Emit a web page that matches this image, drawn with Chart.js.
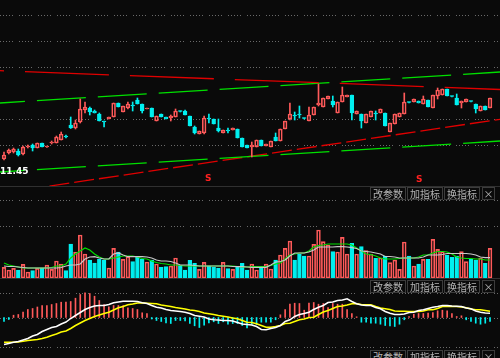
<!DOCTYPE html>
<html><head><meta charset="utf-8">
<script src="https://cdn.jsdelivr.net/npm/chart.js@4.4.1/dist/chart.umd.min.js"></script>
<style>
html,body{margin:0;padding:0;background:#0a0a0a;width:500px;height:358px;overflow:hidden;position:relative;}
canvas{position:absolute;left:0;}
.sep{position:absolute;left:0;width:500px;height:1px;background:#303030;}
.btn{position:absolute;height:11px;border:1px solid #3c3c3c;color:#b4b4b4;font:10px/11px "Noto Sans CJK SC",sans-serif;text-align:center;background:#0a0a0a;overflow:hidden;}
.lbl{position:absolute;font:bold 9px/9px "DejaVu Sans",sans-serif;white-space:nowrap;}
</style></head><body>
<canvas id="main" width="500" height="186" style="top:0px"></canvas>
<canvas id="vol" width="500" height="92" style="top:186px"></canvas>
<canvas id="macd" width="500" height="80" style="top:278px"></canvas>
<div class="sep" style="top:186px"></div>
<div class="sep" style="top:278px"></div>
<div class="lbl" style="left:0px;top:167px;color:#ffffff">11.45</div>
<div class="lbl" style="left:205px;top:174px;color:#ff2020">S</div>
<div class="lbl" style="left:416px;top:175px;color:#ff2020">S</div>
<div class="btn" style="left:370px;top:187px;width:34px">改参数</div>
<div class="btn" style="left:407px;top:187px;width:34px">加指标</div>
<div class="btn" style="left:444px;top:187px;width:34px">换指标</div>
<div class="btn" style="left:482px;top:187px;width:11px">×</div>
<div class="btn" style="left:370px;top:280px;width:34px">改参数</div>
<div class="btn" style="left:407px;top:280px;width:34px">加指标</div>
<div class="btn" style="left:444px;top:280px;width:34px">换指标</div>
<div class="btn" style="left:482px;top:280px;width:11px">×</div>
<div class="btn" style="left:370px;top:350px;width:34px">改参数</div>
<div class="btn" style="left:407px;top:350px;width:34px">加指标</div>
<div class="btn" style="left:444px;top:350px;width:34px">换指标</div>
<div class="btn" style="left:482px;top:350px;width:11px">×</div>
<script>
// ---- data ----
const open = [4.1,4.7,4.8,4.9,4.6,5.3,5.5,5.2,5.7,5.3, 5.7,5.7,6.0,6.4,7.5,7.2,7.8,9.0,9.2,8.9, 8.6,7.9,8.1,8.3,9.7,8.8,9.2,9.5,10.0,9.6, 9.1,9.2,7.9,8.6,8.3,8.2,8.3,8.9,8.9,8.4, 7.3,6.6,6.7,8.2,8.1,7.2,6.7,7.0,7.0,7.1, 6.2,5.5,5.3,5.3,6.0,5.4,5.3,6.3,5.9,7.1, 8.1,8.5,8.6,8.2,7.9,8.5,9.5,9.3,10.1,9.9, 8.7,9.8,10.3,10.5,8.6,8.6,7.7,8.3,8.7,8.7, 8.7,6.8,7.6,8.3,8.6,9.8,9.8,9.9,9.6,10.0, 9.2,10.4,10.5,11.1,10.4,10.2,9.7,9.8,9.9,9.6, 8.9,9.4,9.2];
const close = [4.5,5.0,5.1,4.5,5.3,5.4,5.2,5.7,5.3,5.4, 5.8,6.3,6.6,6.3,7.2,7.7,9.1,9.3,8.8,8.7, 7.9,7.8,8.3,9.7,9.3,9.4,9.6,9.4,9.6,8.9, 9.2,8.3,8.4,8.3,8.1,8.4,8.9,8.85,8.5,7.4, 6.7,6.9,8.2,8.1,7.6,6.9,7.0,6.9,7.2,6.2, 5.3,5.2,5.5,6.0,5.4,5.6,5.9,5.9,7.1,7.9, 8.6,8.4,8.5,8.15,8.5,9.3,9.7,10.2,10.4,9.5, 9.8,10.5,10.5,8.7,8.9,7.9,8.6,8.9,8.6,9.1, 7.4,7.7,8.6,8.7,9.8,9.75,10.1,9.7,10.1,9.3, 10.5,11.0,11.1,10.4,10.35,9.5,9.9,10.1,9.85,9.1, 9.4,9.0,10.2];
const high = [4.8,5.1,5.2,5.1,5.4,5.5,5.6,5.7,5.7,5.4, 5.9,6.4,6.8,6.5,8.3,8.0,10.1,9.8,9.3,9.0, 8.7,7.9,8.3,9.7,9.7,9.4,9.8,9.8,10.2,9.6, 9.2,9.2,8.4,8.6,8.3,8.5,9.1,8.9,9.0,8.4, 7.4,6.9,8.4,8.6,8.1,8.1,7.0,7.2,7.2,7.1, 6.2,5.5,5.8,6.0,6.0,5.6,5.9,6.7,7.1,7.9, 9.7,8.8,9.4,8.2,9.3,9.3,11.6,10.2,10.4,10.4, 9.8,11.3,10.5,10.5,8.9,8.6,8.6,8.9,8.9,9.1, 8.7,7.7,8.6,8.7,10.7,9.8,10.1,9.9,10.4,10.0, 10.5,11.2,11.1,11.1,10.4,10.6,9.9,10.1,9.9,9.6, 9.4,9.4,10.2];
const low = [4.0,4.6,4.7,4.4,4.5,5.2,4.9,5.2,5.3,5.25, 5.6,5.7,6.0,6.2,7.15,7.1,7.7,8.7,8.5,8.7, 7.9,7.3,8.1,8.3,9.3,8.8,9.1,8.9,9.6,8.7, 9.1,8.3,7.9,8.3,8.1,7.9,8.3,8.8,8.5,7.4, 6.6,6.6,6.6,7.7,7.6,6.8,6.7,6.7,7.0,6.2, 5.3,5.2,4.3,5.3,5.4,5.4,5.3,5.9,5.9,7.1, 8.0,8.0,8.2,8.1,7.9,8.5,9.4,9.3,10.1,9.3, 8.7,9.8,10.3,8.0,8.6,7.2,7.7,8.3,8.0,8.7, 7.4,6.8,7.6,8.3,8.6,9.7,9.8,9.7,9.6,9.3, 9.2,10.1,10.5,10.4,10.3,9.5,9.2,9.8,9.8,8.7, 8.9,9.0,9.2];
const volume = [10.7,8,9.7,8,13.7,6,7.3,9.7,9.7,13, 8.7,17,14,7.3,34,26,43,24,18,15, 19,18,10,29.7,26,18.7,21.3,16.3,21.7,19, 16,18,14,10.7,11.3,12,20,12.7,8,17.7, 14.7,8.7,15.7,12,10.7,10,15.7,9.3,8.7,10.7, 14.7,8,14,8,10.7,14,9,18,23,29.7, 37,18,24,22,22,33.7,48,36.3,33,26.3, 26,40.7,24,34.7,24,31.3,27.3,24,19.7,20, 22,15.3,18,8.7,36,22,12,14,18.7,18.7, 38.7,28.7,26.3,23,20.7,22,26.3,16.3,19,18, 20,14.7,29.7];
const volMa1 = [12,11.5,11.5,11,10.5,10,10,10,10,10, 10,10,10.5,12,13,13,14,19,21,21.3, 20,19,19,24,25,23,21.3,21.3,21.3,21.3, 21,20,18,17,17,16.5,15,13,13,13, 12.5,12,12,12,12,12,12,12,11.5,11.3, 11.3,11,10.7,10.7,10.7,10.7,13,16,16.5,18, 22,25,25,25,26,28,31,31,31,31, 31.3,31.3,31,30.3,29.5,27,26.5,26,25,24, 21.5,21.5,21,20,20,20,20,20,21,23, 23,23,23.5,24.5,24.5,24.5,24.5,24.5,24,23, 21,20.3,20.3];
const volMa2 = [15,13,12,11,10,10,10,10,10,10, 10.5,12,12,14,20,24,27,30,28,24, 21,19,19,20,21,22,22,22,21,19.5, 19,17,15.5,14.5,14,13,13,12.5,12,12, 12,12,12,12,12,12,12,12,12,11.5, 11,11,11.3,11.3,11.3,11.3,12.5,14,15,19, 23,24,25,25,27,31,32.5,33,34,34, 34,34,34,33,30,27,24,23.5,22,20, 19,19,19,19.5,20,20,20,21,23,23, 25,26.5,26.5,26,24,21,20,19.5,19.5,19, 19,18,18];
const macdBar = [-4,-2,2.3,3,5.3,8,9,10.5,12,12, 13,14,15.3,15.3,16,19.3,23,24.7,24,21.3, 17,13,10.7,12,12,12,9.7,9,8,4.7, 4,-1.5,-3,-4,-5.3,-6,-3,-3,-3.3,-6, -8.3,-10,-7.7,-5.3,-4.3,-6,-4.3,-6.7,-6,-6, -8,-10.3,-6.7,-7,-4.7,-4.7,-4.7,-2.3,2.7,8, 13.3,14.3,14,7.3,14.3,15,13.3,14,10,14, 13.3,13.3,8,4,0.7,-4.7,-4.7,-5.7,-5.7,-6.7, -8,-8.5,-9,-6.7,-2.3,1,3.3,4,4,4.5, 5,6.7,7.3,6.7,4,1,1.7,-2.3,-4,-5.7, -6.7,-5.7,-4];
const dif = [-27,-26,-24.7,-24,-22.5,-21,-18.5,-17,-14,-12, -10,-9,-6.5,-4.5,-1,2,5,8,10,11.5, 12,12,13,14.7,15.5,16.3,16.3,16.3,16,14.7, 14,12,10.3,9.5,8,7,6.5,6,5.3,4, 2,1.3,0.5,-1.5,-2.3,-2.5,-3,-3,-3.5,-5, -6.5,-7,-7.5,-9,-12,-12.3,-11,-10,-8,-4, -2.3,1,3,4,5.3,8,10.3,12,15,15.5, 17,17.5,18.7,16,13.7,12.5,12,12,10,8.7, 6,4.3,3,3,3.5,5,5.3,7,7.7,9, 10.3,11,12,12,11.5,11.3,11,9.5,8.7,6.5, 5.3,4.5,4.3];
const dea = [-24.7,-24.7,-24.7,-24.5,-23.7,-23,-22.5,-22,-21,-19.7, -18,-16.5,-14.5,-13.5,-11,-8,-5.5,-3,-1,1, 2.5,4,5.3,7.5,9.7,11,12.7,13.5,14.5,14.7, 14.3,14,13.7,12.5,11.7,11,10,9.3,8.5,7.5, 7,6,4.5,3.7,3,2,1.3,0.5,-0.5,-1.3, -3,-4.7,-5,-6.3,-8,-9.7,-9.7,-9,-8,-6, -5.7,-4,-2.3,-1.5,0,0.3,3,5.5,7,9, 11,11.5,12.5,13.7,13.7,13,12.7,12.7,11,9.5, 8.7,8,6.5,6.3,6.3,6,6,6,6.5,7.7, 7.7,9,11,11,11,11,10.5,9.7,8.5,7.7, 7.7,7,6.3];
// channel lines: price at the left and right edge of the view
const chanX = [-0.84, 104.09];
const chanUpperRed = [12.93, 11.05];
const chanUpperGreen = [9.7, 12.8];
const chanLowerGreen = [2.8, 5.9];
const chanLowerRed = [0.66, 8.07];
// gridline levels
const gridMain = [18.5, 15.9, 13.3, 8.1, 5.5];
const gridVol = [77, 52];
const gridMacd = [24.5, -0.5, -29.5];

// ---- drawing ----
const days = close.map((_, i) => i);
const RED = '#ff5a5a', CYAN = '#00f0f0', CLEAR = 'rgba(0,0,0,0)';
const isUp = i => close[i] >= open[i];
const candleColor = c => isUp(c.dataIndex) ? RED : CYAN;
const pts = arr => arr.map((v, i) => ({x: i, y: v}));
const DOTS = [1,2,1,2,1,2,1,2,1,6];

function xAxis() { return {type: 'linear', offset: false, min: chanX[0], max: chanX[1], display: false, grid: {offset: false}}; }
function yAxis(min, max, levels) {
  return {type: 'linear', min, max, display: true,
    ticks: {display: false},
    border: {display: false, dash: DOTS},
    grid: {color: '#6a6a6a', lineWidth: 1, drawTicks: false},
    afterBuildTicks: s => { s.ticks = levels.map(v => ({value: v})); }};
}
function baseOpts(yMin, yMax, levels) {
  return {responsive: false, animation: false, devicePixelRatio: 1, events: [],
    layout: {padding: 0},
    plugins: {legend: {display: false}, tooltip: {enabled: false}},
    scales: {x: xAxis(), y: yAxis(yMin, yMax, levels)}};
}
const chanLine = (vals, color, dash, offset) => ({type: 'line',
  data: chanX.map((x, k) => ({x, y: vals[k]})), borderColor: color, borderWidth: 1.3,
  borderDash: dash, borderDashOffset: offset, pointRadius: 0, order: 10});

new Chart(document.getElementById('main'), {
  type: 'bar',
  data: {datasets: [
    chanLine(chanUpperRed, '#e00000', [84, 21], 80),
    chanLine(chanUpperGreen, '#00e000', [49, 12], 24),
    chanLine(chanLowerGreen, '#00e000', [49, 12], 24),
    chanLine(chanLowerRed, '#e00000', [20, 5], 0),
    {type: 'bar', data: days.map(i => ({x: i, y: [Math.max(open[i], close[i]), high[i]]})),
      backgroundColor: candleColor, barThickness: 1, grouped: false, order: 3},
    {type: 'bar', data: days.map(i => ({x: i, y: [low[i], Math.min(open[i], close[i])]})),
      backgroundColor: candleColor, barThickness: 1, grouped: false, order: 3},
    {type: 'bar', data: days.map(i => ({x: i, y: [open[i], close[i]]})),
      backgroundColor: c => isUp(c.dataIndex) ? CLEAR : CYAN, borderColor: candleColor,
      borderWidth: 1, borderSkipped: false, barThickness: 3.8, minBarLength: 1, grouped: false, order: 1}
  ]},
  options: baseOpts(1.4, 20, gridMain)
});

new Chart(document.getElementById('vol'), {
  type: 'bar',
  data: {datasets: [
    {type: 'line', data: pts(volMa1), borderColor: '#c8c8c8', borderWidth: 1.2, pointRadius: 0, order: 0},
    {type: 'line', data: pts(volMa2), borderColor: '#00e000', borderWidth: 1.2, pointRadius: 0, order: 0},
    {type: 'bar', data: pts(volume),
      backgroundColor: c => isUp(c.dataIndex) ? CLEAR : CYAN, borderColor: candleColor,
      borderWidth: 1, borderSkipped: false, barThickness: 3.8, grouped: false, order: 1}
  ]},
  options: baseOpts(0, 92, gridVol)
});

new Chart(document.getElementById('macd'), {
  type: 'bar',
  data: {datasets: [
    {type: 'line', data: pts(dif), borderColor: '#ffffff', borderWidth: 1.5, pointRadius: 0, order: 0},
    {type: 'line', data: pts(dea), borderColor: '#ffff00', borderWidth: 1.5, pointRadius: 0, order: 0},
    {type: 'bar', data: pts(macdBar),
      backgroundColor: c => macdBar[c.dataIndex] >= 0 ? RED : CYAN, barThickness: 1, grouped: false, order: 1}
  ]},
  options: baseOpts(-40.5, 39.5, gridMacd)
});
</script>
</body></html>
